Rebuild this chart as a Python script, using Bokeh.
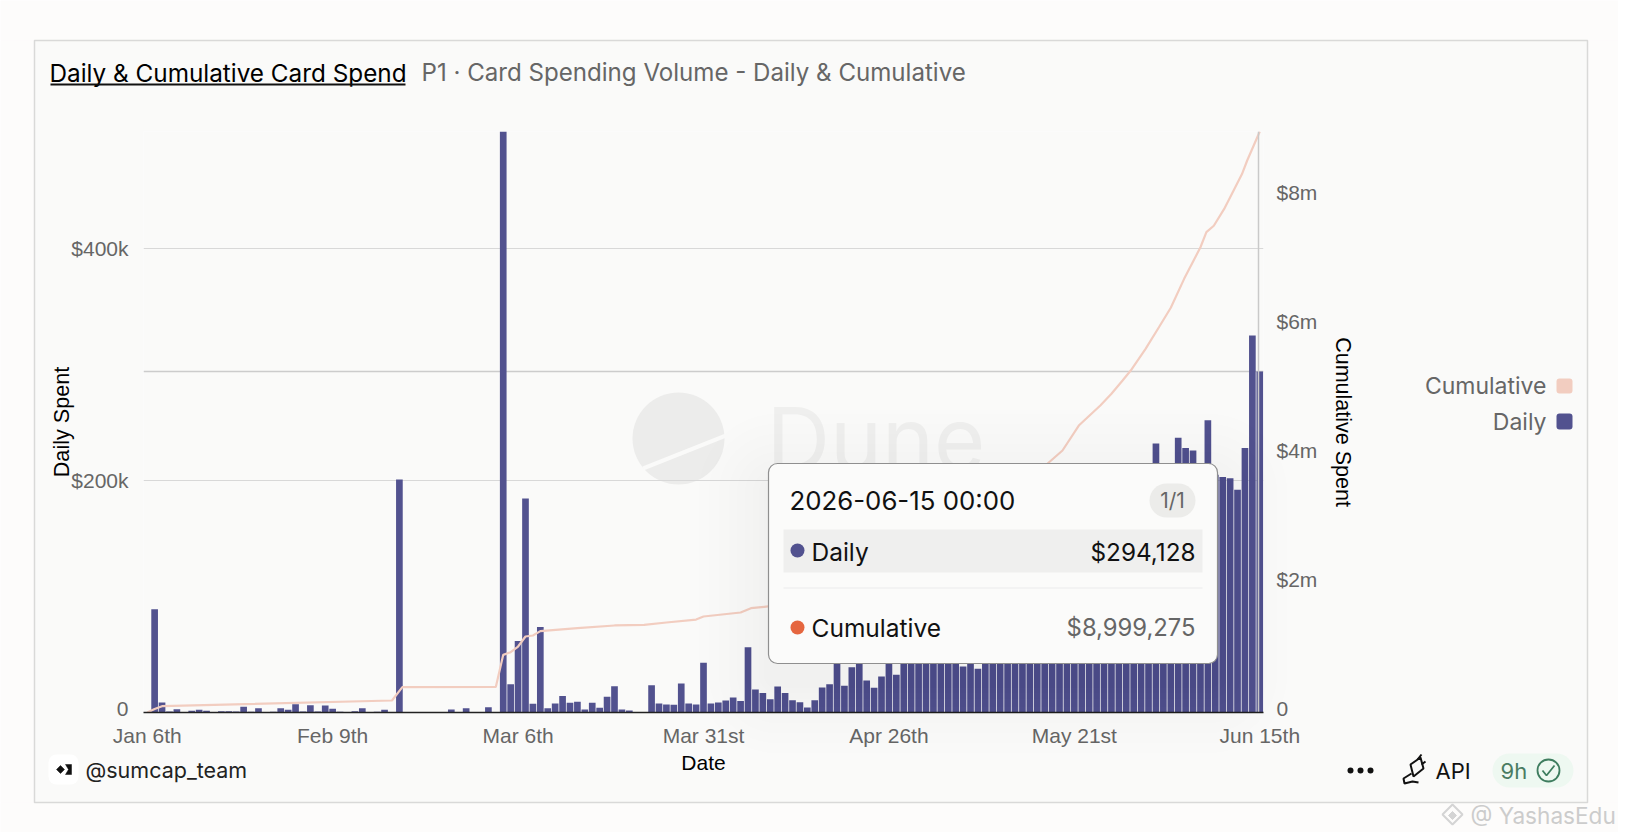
from bokeh.plotting import figure
from bokeh.models import Range1d, LinearAxis, FixedTicker, BoxAnnotation, Label, PolyAnnotation
from bokeh.embed import file_html
from bokeh.resources import INLINE

# ---------- data ----------
daily_k = [
 .3, 89, 8.6, .8, 2.9, .5, 1.5, 2.3, 1.5, .5,
 1.0, 1.0, .8, 4.9, .7, 3.7, .5, .7, 3.7, 2.3,
 7.2, .8, 6.3, .8, 6, 3.2, .6, .5, 1, 3.7,
 .5, .6, 2.3, .5, 201, .4, .3, .3, .3, .3,
 .3, 2.6, .4, 3.7, .5, .5, 4.6, .5, 501, 24.4,
 61.7, 184.5, 7.5, 73.8, 3.7, 7.7, 14.3, 8.3, 9.2, 2.6,
 8.3, 4, 13.5, 22.7, 2.6, 1.7, .5, .3, 23.5, 7.7,
 6.9, 6.6, 25, 7.7, 6.9, 42.8, 7.7, 8.6, 10.3, 12.9,
 10, 56.3, 19.8, 16.9, 11.5, 22.4, 16.9, 10.6, 8.9, 4.3,
 10.6, 21.5, 24.4, 46, 23, 39, 47, 27.6, 21.3, 31,
 48, 32.5, 55, 62, 70, 58, 75, 66, 80, 72,
 39.7, 72, 37.7, 80, 85, 92, 88, 100, 95, 110,
 105, 118, 112, 125, 135, 128, 140, 150, 145, 160,
 155, 170, 165, 180, 175, 195, 232, 190, 205, 237,
 228, 226, 200, 252, 205, 203, 202, 192, 228, 325, 294.128,
]
cum_index = [0, 1, 2, 33, 34.4, 47, 48, 49, 50, 51, 52, 53, 58, 63, 67, 70, 74, 75, 80, 81.4, 84,
             90, 100, 110, 115, 121.4, 123.4, 125.6, 128.5, 130, 131.5, 132.6, 134.6, 136.4, 138,
             139.8, 142, 142.8, 143.8, 145.2, 147.6, 148.3, 150]
cum_musd = [0, .055, .098, .186, .392, .396, .893, .934, 1.022, 1.177, 1.193, 1.26, 1.306, 1.348, 1.358,
            1.394, 1.44, 1.487, 1.549, 1.616, 1.647, 1.8, 2.2, 2.75, 3.2, 3.857, 4.058, 4.445, 4.755,
            4.936, 5.142, 5.297, 5.633, 5.967, 6.27, 6.717, 7.206, 7.44, 7.54, 7.8, 8.34, 8.55, 8.999275]
x_tick_index = [0, 25, 50, 75, 100, 125, 150]
x_tick_labels = ["Jan 6th", "Feb 9th", "Mar 6th", "Mar 31st", "Apr 26th", "May 21st", "Jun 15th"]
left_labels = ["0", "$200k", "$400k"]
right_labels = ["0", "$2m", "$4m", "$6m", "$8m"]

W, H = 1618, 832
FL, FR, FT, FB = 143, 1263, 131, 712      # frame edges in picture pixels
SANS = "Liberation Sans"
UI = "Inter"
BAR = "#52528f"
LINE = "#f2cdc0"
GREY = "#666666"
CARD = "#fafaf9"
OUTER = "#fdfcfb"

p = figure(width=W, height=H, output_backend="svg", toolbar_location=None,
           x_range=Range1d(-0.5, 150.5), y_range=Range1d(0, 501000),
           min_border_left=FL, min_border_right=W-FR, min_border_top=FT, min_border_bottom=H-FB,
           background_fill_color=CARD, border_fill_color=CARD, outline_line_color=None)
p.grid.visible = False
p.extra_y_ranges = {"cum": Range1d(0, 8999275)}

# transparent figure on top of the chart, for everything that is page furniture
ov = figure(width=W, height=H, output_backend="svg", toolbar_location=None,
            x_range=Range1d(0, W), y_range=Range1d(H, 0), x_axis_location=None, y_axis_location=None,
            min_border=0, background_fill_alpha=0, border_fill_alpha=0, outline_line_color=None,
            styles={"position": "absolute", "left": "0px", "top": "0px"})
ov.grid.visible = False

def box(x0, y0, x1, y1, fill, alpha=1.0, line=None, radius=0, lw=1, target=ov, level="annotation"):
    units = "data" if target is ov else "canvas"
    target.add_layout(BoxAnnotation(left=x0, right=x1, top=y0, bottom=y1,
                      left_units=units, right_units=units, top_units=units, bottom_units=units,
                      fill_color=fill, fill_alpha=alpha, line_color=line, line_width=lw, line_alpha=1 if line else 0,
                      border_radius=radius, level=level, editable=False))

def text(X, Y, s, size, color="#000000", font=UI, align="left", target=ov, level="annotation"):
    units = "data" if target is ov else "canvas"
    target.add_layout(Label(x=X, y=Y, x_units=units, y_units=units, text=s, text_font=font,
                       text_font_size=f"{size}px", text_color=color, text_align=align,
                       text_baseline="middle", level=level))

def poly(xs, ys, fill=None, line=None, lw=1.5, target=ov, level="annotation"):
    units = "data" if target is ov else "canvas"
    target.add_layout(PolyAnnotation(xs=xs, ys=ys, xs_units=units, ys_units=units,
                                fill_color=fill or "#ffffff", fill_alpha=1 if fill else 0,
                                line_color=line or "#000000", line_alpha=1 if line else 0, line_width=lw,
                                level=level, editable=False))

# watermark, behind the series
box(632, 392, 724, 484, "#ececeb", radius=46, target=p, level="underlay")
poly([642, 725, 726, 643], [466, 433, 437, 470], fill=CARD, target=p, level="underlay")
text(766, 438, "Dune", 88, color="#efefee", target=p, level="underlay")

# gridlines and crosshair
p.hspan(y=[200000, 400000], line_color="#d8d8d8", line_width=1.2)
p.hspan(y=[294128], line_color="#cccccc", line_width=1.5)

# series
p.vbar(x=list(range(len(daily_k))), top=[v*1000 for v in daily_k], width=0.9, color=BAR, line_color=None)
p.line(cum_index, [v*1e6 for v in cum_musd], y_range_name="cum", color=LINE, line_width=2.2)
p.vspan(x=[149.8], line_color="#c9c9c9", line_width=1.5)

# axes
ax = p.xaxis[0]
ax.ticker = FixedTicker(ticks=x_tick_index)
ax.major_label_overrides = dict(zip(x_tick_index, x_tick_labels))
ax.major_tick_line_color = None
ax.minor_tick_line_color = None
ax.axis_line_color = "#222222"
ax.axis_line_width = 1.5
ax.major_label_text_font = SANS
ax.major_label_text_font_size = "21px"
ax.major_label_text_color = GREY
ax.major_label_standoff = 5
ax.axis_label = "Date"
ax.axis_label_text_font = SANS
ax.axis_label_text_font_style = "normal"
ax.axis_label_text_font_size = "21px"
ax.axis_label_text_color = "#000000"
ax.axis_label_standoff = 1

ay = p.yaxis[0]
left_ticks = [3400, 200000, 400000]
ay.ticker = FixedTicker(ticks=left_ticks)
ay.major_label_overrides = dict(zip(left_ticks, left_labels))
ay.major_tick_line_color = None
ay.minor_tick_line_color = None
ay.axis_line_color = None
ay.major_label_text_font = SANS
ay.major_label_text_font_size = "21px"
ay.major_label_text_color = GREY
ay.major_label_standoff = 9
ay.axis_label = "Daily Spent"
ay.axis_label_text_font = SANS
ay.axis_label_text_font_style = "normal"
ay.axis_label_text_font_size = "21.6px"
ay.axis_label_text_color = "#000000"
ay.axis_label_standoff = -6

right_ticks = [62000, 2062000, 4062000, 6062000, 8062000]
ar = LinearAxis(y_range_name="cum", ticker=FixedTicker(ticks=right_ticks),
                major_label_overrides=dict(zip(right_ticks, right_labels)),
                major_tick_line_color=None, minor_tick_line_color=None, axis_line_color=None,
                major_label_text_font=SANS, major_label_text_font_size="21px", major_label_text_color=GREY,
                major_label_standoff=7, axis_label="Cumulative Spent", axis_label_text_font=SANS,
                axis_label_text_font_style="normal", axis_label_text_font_size="21.5px",
                axis_label_text_color="#000000", axis_label_standoff=11)
p.add_layout(ar, "right")

# area outside the card
box(0, 0, W, 40, OUTER)
box(0, 802, W, H, OUTER)
box(0, 40, 34, 802, OUTER)
box(1587, 40, W, 802, OUTER)
poly([34, 1587, 1587, 34], [40, 40, 802, 802], line="#d9d9d8", lw=1.5)

# header
text(49, 72, "Daily & Cumulative Card Spend", 24.3)
box(50, 83, 405, 85, "#111111")
text(421, 72, "P1 · Card Spending Volume - Daily & Cumulative", 24.1, color=GREY)

# legend
text(1546, 385, "Cumulative", 23, color=GREY, align="right")
box(1556, 378, 1572, 393, LINE, radius=3)
text(1546, 421, "Daily", 23, color=GREY, align="right")
box(1556, 413, 1572, 429, BAR, radius=3)

# footer
box(48, 754, 78, 784, "#ffffff", radius=8)
poly([56, 60, 64, 60], [769, 765, 769, 773], fill="#111111", line="#111111", lw=0.5)
poly([65, 71, 71, 65, 68], [764, 764, 774, 774, 769], fill="#111111", line="#111111", lw=0.5)
text(85, 769, "@sumcap_team", 21.5, color="#222222")
for cx in (1350, 1360, 1370):
    box(cx-3, 767, cx+3, 773, "#111111", radius=3)
poly([1410, 1420, 1423, 1413], [764, 757, 768, 776], line="#111111", lw=2)
poly([1417, 1421, 1417], [759, 754, 759], line="#111111", lw=2)
poly([1421, 1425, 1421], [764, 761, 764], line="#111111", lw=2)
poly([1411, 1403, 1404, 1412, 1418, 1412, 1404, 1403], [773, 778, 783, 781, 782, 781, 783, 778], line="#111111", lw=2)
text(1435, 770, "API", 22, color="#111111")
box(1492, 753, 1573, 787, "#eef8f1", radius=17)
text(1500, 770, "9h", 22, color="#4a7c62")
box(1537, 759, 1559, 781, "#eef8f1", line="#3f7d5f", radius=11, lw=1.8)
poly([1542, 1546, 1554, 1546], [770, 775, 765, 775], line="#3f7d5f", lw=1.8)

# image credit
poly([1452, 1462, 1452, 1442], [804, 814, 824, 814], line="#d4d4d4", lw=2)
poly([1452, 1456, 1452, 1448], [811, 815, 819, 815], fill="#d4d4d4", line="#d4d4d4", lw=1)
text(1470, 815, "@ YashasEdu", 22.6, color="#cccccc")

# tooltip shadow
for grow in (70, 60, 50, 40, 32, 24, 16, 10, 5):
    box(768-grow, 463-grow+20, 1217+grow, 663+grow+20, "#000000", alpha=0.0045, radius=grow+8)

# tooltip
box(768, 463, 1217, 663, "#fbfbfa", line="#8f8f8f", radius=9, lw=1.2)
text(789, 500, "2026-06-15 00:00", 25.8, color="#111111")
box(1149, 483, 1195, 517, "#ececea", radius=17)
text(1172, 500, "1/1", 21, color=GREY, align="center")
box(783, 529, 1202, 572, "#efefee")
box(790, 543, 804, 557, BAR, radius=7)
text(811, 551, "Daily", 24.5, color="#111111")
text(1195, 551, "$294,128", 24.3, color="#111111", align="right")
box(783, 587, 1202, 588, "#ececec")
box(790, 620, 804, 634, "#e5663f", radius=7)
text(811, 627, "Cumulative", 24.5, color="#111111")
text(1195, 627, "$8,999,275", 23.8, color=GREY, align="right")

open("out.html", "w").write(file_html([p, ov], INLINE))
